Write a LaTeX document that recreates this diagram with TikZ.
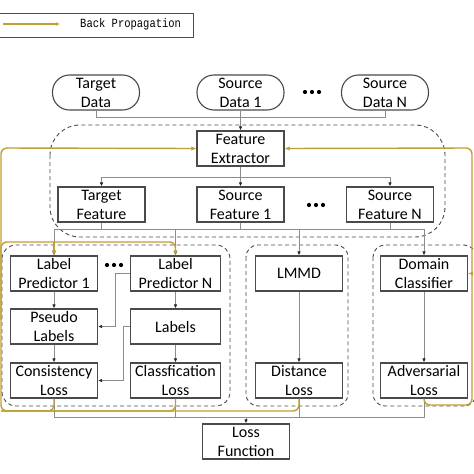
\documentclass[tikz,border=0pt]{standalone}
\usepackage{fontspec}
\setmainfont{Carlito}
\newfontfamily\legfont[FakeStretch=0.84]{Liberation Mono}
\usetikzlibrary{arrows.meta}
\definecolor{gold}{HTML}{BFA033}
\definecolor{lgray}{HTML}{8C8C8C}
\definecolor{bgray}{HTML}{4A4A4A}
\tikzset{
  box/.style={draw=bgray, line width=1.1pt, minimum width=87pt, minimum height=35pt, inner sep=0pt, align=center, font=\fontsize{16}{19}\selectfont},
  pill/.style={box, rounded corners=17pt},
  conn/.style={draw=lgray, line width=0.9pt},
  arr/.style={conn, -{Latex[length=4pt,width=3.5pt,color=black!85]}},
  goldline/.style={draw=gold, line width=1.4pt, rounded corners=6pt},
  goldarr/.style={goldline, -{Latex[length=5pt,width=4.5pt]}},
  grp/.style={draw=bgray, line width=0.9pt, dash pattern=on 4pt off 3pt},
  dots/.style={fill=black},
}
\begin{document}
\begin{tikzpicture}[x=1pt,y=-1pt]
\useasboundingbox (0,0) rectangle (474,474);
\fill[white] (0,0) rectangle (474,474);

% legend
\draw[draw=bgray, line width=1pt] (-2,13) rectangle (193,37);
\coordinate (la) at (3,24);
\coordinate (lb) at (60,24);
\draw[goldarr, line width=1.1pt, -{Latex[length=4pt,width=3.5pt]}] (la) -- (lb);
\node[font=\legfont\fontsize{12.5}{14}\selectfont, anchor=west, inner sep=0pt] (leg) at (80,24) {Back Propagation};

% groups
\draw[grp, rounded corners=30pt] (50,125) rectangle (445,237);
\draw[grp, rounded corners=14pt] (2,245) rectangle (230,406);
\draw[grp, rounded corners=12pt] (246,245) rectangle (348,406);
\draw[grp, rounded corners=12pt] (373,245) rectangle (476,406);

% nodes
\node[pill] (td) at (96,92.5) {Target\\Data};
\node[pill] (sd1) at (240.5,92.5) {Source\\Data 1};
\node[pill] (sdn) at (385,92.5) {Source\\Data N};
\node[box] (fe) at (240.5,148.5) {Feature\\Extractor};
\node[box] (tf) at (101.5,204.5) {Target\\Feature};
\node[box] (sf1) at (240.5,204.5) {Source\\Feature 1};
\node[box] (sfn) at (390,204.5) {Source\\Feature N};
\node[box] (lp1) at (54,273.5) {Label\\Predictor 1};
\node[box, minimum width=90pt] (lpn) at (175.5,273.5) {Label\\Predictor N};
\node[box] (pl) at (54,326.5) {Pseudo\\Labels};
\node[box, minimum width=90pt] (lab) at (175.5,326.5) {Labels};
\node[box] (cl) at (54,380.5) {Consistency\\Loss};
\node[box, minimum width=90pt] (cfl) at (175.5,380.5) {Classfication\\Loss};
\node[box] (lmmd) at (299,273.5) {LMMD};
\node[box] (dl) at (299,380.5) {Distance\\Loss};
\node[box] (dc) at (424,273.5) {Domain\\Classifier};
\node[box] (al) at (424,380.5) {Adversarial\\Loss};
\node[box] (lf) at (246,441.5) {Loss\\Function};

% dots
\foreach \cx/\cy in {312/92, 316/205, 114/265}
  \foreach \dx in {-7,0,7}
    \fill[dots] (\cx+\dx,\cy) circle (2.1pt);

% top connectors
\coordinate (jt) at (240.5,117);
\draw[conn] (td.south) |- (jt);
\draw[conn] (sdn.south) |- (jt);
\draw[arr] (sd1.south) -- (fe.north);
\coordinate (jf) at (240.5,177);
\draw[arr] (fe.south) -- (sf1.north);
\draw[arr] (jf) -| (tf.north);
\draw[arr] (jf) -| (sfn.north);

% feature bus
\coordinate (bus) at (240.5,229);
\draw[conn] (tf.south) -- (tf.south |- bus);
\draw[conn] (sf1.south) -- (bus);
\draw[conn] (sfn.south) -- (sfn.south |- bus);
\draw[arr] (bus) -| (lp1.north);
\draw[arr] (bus) -| (lpn.north);
\draw[arr] (bus) -| (lmmd.north);
\draw[arr] (bus) -| (dc.north);

% inside groups
\draw[arr] (lp1) -- (pl);
\draw[arr] (pl) -- (cl);
\draw[arr] (lpn) -- (lab);
\draw[arr] (lab) -- (cfl);
\draw[arr] (lpn.west) -- ++(-15,0) |- (pl.east);
\draw[arr] (lab.west) -- ++(-7,0) |- (cl.east);
\draw[arr] (lmmd) -- (dl);
\draw[arr] (dc) -- (al);

% loss bus
\coordinate (lbus) at (246,417);
\draw[conn] (cl.south) |- (lbus);
\draw[conn] (cfl.south) -- (cfl.south |- lbus);
\draw[conn] (dl.south) |- (lbus);
\draw[conn] (al.south) |- (lbus);
\draw[arr] (lbus) -- (lf.north);

% back propagation (left)
\coordinate (gl1) at (1,411);
\coordinate (gl2) at (1,148);
\coordinate (gl3) at (1,242);
\coordinate (gl4) at (1,320);
\draw[goldarr] (dl.south) |- (gl1) -- (gl2) -- (fe.west);
\draw[goldline] (cl.south) |- (gl1);
\draw[goldline] (cfl.south) |- (gl1);
\draw[goldarr] (gl4) -- (gl3) -| (lpn.north);
\draw[goldarr] (lp1.north |- gl3) -- (lp1.north);

% back propagation (right)
\coordinate (gr1) at (472,405);
\coordinate (gr2) at (472,148);
\draw[goldarr] (al.south) |- (gr1) -- (gr2) -- (fe.east);
\draw[goldarr] (gr1 |- dc.east) -- (dc.east);
\end{tikzpicture}
\end{document}
